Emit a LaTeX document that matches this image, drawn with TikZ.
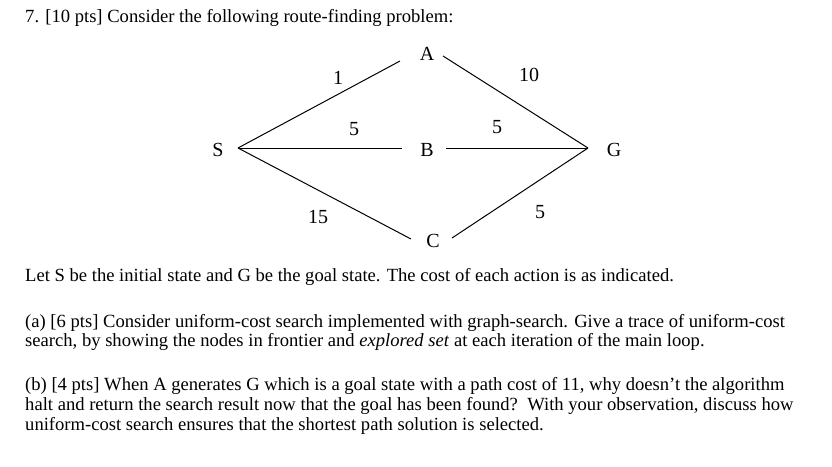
\documentclass[tikz,border=0pt]{standalone}
\usepackage{fontspec}
\setmainfont{Liberation Serif}
\begin{document}
\begin{tikzpicture}[x=1pt,y=-1pt,
  lab/.style={font=\fontsize{20}{22}\selectfont, inner sep=0pt},
  wt/.style={font=\fontsize{20}{22}\selectfont, inner sep=0pt},
  txt/.style={font=\fontsize{18.6}{21}\selectfont, anchor=west, inner sep=0pt},
  edge/.style={line width=1pt}]
\useasboundingbox (0,0) rectangle (832,466);
\node[txt] (t0) at (25,18) {7. [10 pts] Consider the following route-finding problem:};
\node[lab] (S) at (218,150) {S};
\node[lab] (A) at (427,54) {A};
\node[lab] (B) at (427,150) {B};
\node[lab] (C) at (433,241) {C};
\node[lab] (G) at (614,150) {G};
\coordinate (s) at (238,148);
\coordinate (g) at (588,148);
\coordinate (a1) at (400,61);
\coordinate (a2) at (443,56);
\coordinate (b1) at (402,148);
\coordinate (b2) at (446,148);
\coordinate (c1) at (411,239);
\coordinate (c2) at (452,238);
\draw[edge] (s) -- (a1);
\draw[edge] (a2) -- (g);
\draw[edge] (s) -- (b1);
\draw[edge] (b2) -- (g);
\draw[edge] (s) -- (c1);
\draw[edge] (c2) -- (g);
\node[wt] (w1) at (338,78) {1};
\node[wt] (w2) at (529,75) {10};
\node[wt] (w3) at (354,129) {5};
\node[wt] (w4) at (497,127) {5};
\node[wt] (w5) at (318,217) {15};
\node[wt] (w6) at (540,212) {5};
\node[txt] (t1) at (25,277) {Let S be the initial state and G be the goal state. The cost of each action is as indicated.};
\node[txt] (t2) at (25,323) {(a) [6 pts] Consider uniform-cost search implemented with graph-search. Give a trace of uniform-cost};
\node[txt] (t3) at (25,342) {search, by showing the nodes in frontier and \textit{explored set} at each iteration of the main loop.};
\node[txt] (t4) at (25,386) {(b) [4 pts] When A generates G which is a goal state with a path cost of 11, why doesn't the algorithm};
\node[txt] (t5) at (25,406) {halt and return the search result now that the goal has been found?\, With your observation, discuss how};
\node[txt] (t6) at (25,426) {uniform-cost search ensures that the shortest path solution is selected.};
\end{tikzpicture}
\end{document}
